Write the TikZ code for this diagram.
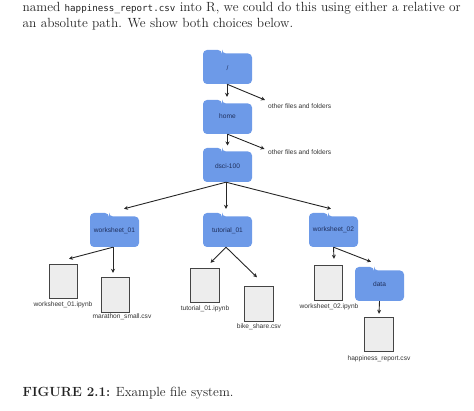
\documentclass[tikz,border=0pt]{standalone}
\usepackage{fontspec}
\usetikzlibrary{arrows.meta}
\newfontfamily\labelfont{Liberation Sans}
\newfontfamily\codefont{DejaVu Sans Mono}
\definecolor{folderblue}{HTML}{6D9AE8}
\definecolor{pagefill}{HTML}{EDEDED}
\definecolor{docline}{HTML}{444444}
\definecolor{foldertext}{HTML}{1F2F5C}
\definecolor{filetext}{HTML}{333333}
\definecolor{bodytext}{HTML}{222222}
\tikzset{
  folderbox/.style={minimum width=49pt,minimum height=34pt,inner sep=0pt,font=\labelfont\fontsize{6.6}{7}\selectfont,text=foldertext},
  docbox/.style={draw=docline,fill=pagefill,line width=0.9pt,minimum width=28.5pt,minimum height=34.5pt,inner sep=0pt},
  filelabel/.style={inner sep=0pt,font=\labelfont\fontsize{6.6}{7}\selectfont,text=filetext},
  link/.style={draw=black!85,line width=0.9pt,-{Stealth[length=4pt,width=4pt]}},
  bodyline/.style={inner sep=0pt,anchor=base west,text=bodytext,font=\fontsize{13.3}{15}\selectfont},
}
\newcommand{\folderat}[4]{%
  \fill[folderblue,rounded corners=4pt] (#2,#3) -- ++(19,0) -- ++(0,3.5) -- ++(30,0) -- ++(0,30.5) -- ++(-49,0) -- cycle;
  \node[folderbox] (#1) at (#2+24.5,#3+17) {};
  \node[folderbox] at (#2+24.5,#3+#4) {\foldername};
}
\newcommand{\foldername}{}
\begin{document}
\begin{tikzpicture}[x=1pt,y=-1pt]
\useasboundingbox (0,0) rectangle (474,411);
\node[bodyline] (line1) at (22.5,11.5) {named {\codefont\fontsize{9.2}{10}\selectfont happiness\_report.csv} into R, we could do this using either a relative or};
\node[bodyline] (line2) at (22.5,27.5) {an absolute path. We show both choices below.};
\node[bodyline] (caption) at (22.5,397) {\textbf{FIGURE 2.1:} Example file system.};

\renewcommand{\foldername}{/}\folderat{root}{203}{50}{18}
\renewcommand{\foldername}{home}\folderat{home}{203}{100}{16.5}
\renewcommand{\foldername}{dsci-100}\folderat{dsci}{203}{148}{18}
\renewcommand{\foldername}{worksheet\_01}\folderat{wsa}{90}{213}{18}
\renewcommand{\foldername}{tutorial\_01}\folderat{tut}{203}{213}{18}
\renewcommand{\foldername}{worksheet\_02}\folderat{wsb}{309}{213}{17}
\renewcommand{\foldername}{data}\folderat{data}{355}{267}{17}

\node[docbox] (fa) at (63.5,281.5) {};
\node[docbox] (fb) at (115.5,295) {};
\node[docbox] (fc) at (205,285.5) {};
\node[docbox] (fd) at (259,304) {};
\node[docbox] (fe) at (328.5,283) {};
\node[docbox] (ff) at (379,334.5) {};

\node[filelabel] (la) at (63,305) {worksheet\_01.ipynb};
\node[filelabel] (lb) at (122,317) {marathon\_small.csv};
\node[filelabel] (lc) at (205,309) {tutorial\_01.ipynb};
\node[filelabel] (ld) at (259,327) {bike\_share.csv};
\node[filelabel] (le) at (329,307) {worksheet\_02.ipynb};
\node[filelabel] (lf) at (379,359) {happiness\_report.csv};
\node[filelabel,anchor=west] (ota) at (268,106) {other files and folders};
\node[filelabel,anchor=west] (otb) at (268,152) {other files and folders};

\path[link] ([xshift=-0.5pt]root.south) -- ([xshift=-0.5pt,yshift=3pt]home.north);
\path[link] ([xshift=-0.5pt]root.south) -- ([xshift=-3pt,yshift=6pt]ota.west);
\path[link] (home.south) -- ([yshift=2.3pt]dsci.north);
\path[link] (home.south) -- ([xshift=-3.5pt,yshift=3pt]otb.west);
\path[link] ([xshift=-1.5pt]dsci.south) -- ([xshift=9.5pt,yshift=4pt]wsa.north);
\path[link] ([xshift=-1.5pt]dsci.south) -- ([xshift=-1.5pt,yshift=4pt]tut.north);
\path[link] ([xshift=-1.5pt]dsci.south) -- ([xshift=-2.5pt,yshift=4pt]wsb.north);
\path[link] ([xshift=-1.5pt]wsa.south) -- ([xshift=5.5pt,yshift=5pt]fa.north);
\path[link] ([xshift=-1.5pt]wsa.south) -- ([xshift=-2.5pt,yshift=4.5pt]fb.north);
\path[link] ([xshift=-1.5pt]tut.south) -- ([xshift=5.5pt,yshift=5pt]fc.north);
\path[link] ([xshift=-1.5pt]tut.south) -- ([xshift=-2pt,yshift=9pt]fd.north);
\path[link] (wsb.south) -- ([xshift=5.5pt,yshift=6.5pt]fe.north);
\path[link] (wsb.south) -- ([xshift=-8.5pt,yshift=5pt]data.north);
\path[link] (data.south) -- ([yshift=3pt]ff.north);
\end{tikzpicture}
\end{document}
